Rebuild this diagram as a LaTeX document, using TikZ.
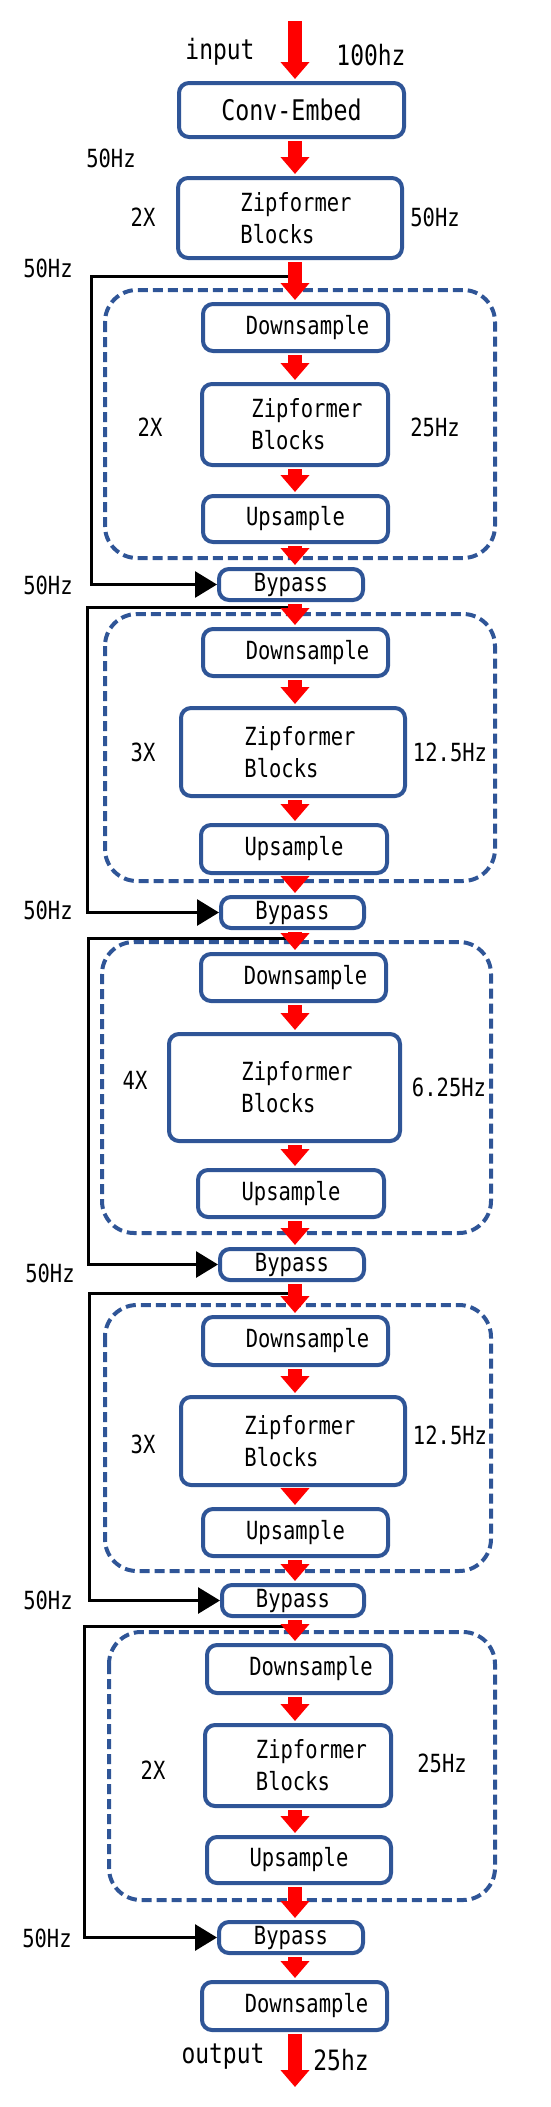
\documentclass[tikz,border=0pt]{standalone}
\usepackage{fontspec}
\setmainfont{DejaVu Sans Mono}[FakeStretch=0.82]
\usetikzlibrary{arrows.meta}
\definecolor{boxblue}{RGB}{47,85,151}
\newcommand{\zipf}[1]{\hspace*{#1}Zipformer\\\hspace*{#1}Blocks}
\newcommand{\dsmp}{\hspace*{24pt}Downsample}

\begin{document}
\begin{tikzpicture}[x=1pt, y=-1pt,
		blk/.style={draw=boxblue, line width=4pt, rounded corners=10pt, fill=white, inner sep=0pt, align=left, font=\fontsize{25}{32}\selectfont},
		stage/.style={draw=boxblue, line width=4pt, dash pattern=on 10pt off 5pt, rounded corners=32pt},
		flow/.style={red, line width=14pt, -{Triangle[width=28pt,length=17pt]}, shorten <=2pt, shorten >=2pt},
		skip/.style={line width=3pt, -{Triangle[width=26pt,length=22pt]}},
		lab/.style={inner sep=0pt, font=\fontsize{25}{28}\selectfont},
		big/.style={inner sep=0pt, font=\fontsize{28}{30}\selectfont}]
		\useasboundingbox (0,0) rectangle (550,2107);
		
		% Stages
		\draw[stage] (105,290) rectangle (495,558);
		\draw[stage] (105,614) rectangle (495,881);
		\draw[stage] (102,942) rectangle (491,1233);
		\draw[stage] (105,1305) rectangle (491,1571);
		\draw[stage] (109,1632) rectangle (495,1900);
		
		% Main column
		\coordinate (axis) at (295,0);
		\coordinate (in) at (295,21);
		\coordinate (out) at (295,2087);
		\node[blk, minimum width=225pt, minimum height=54pt, font=\fontsize{28.4}{32}\selectfont] (conv) at (291.5,110) {Conv-Embed};
		\node[blk, minimum width=224pt, minimum height=80pt] (zip0) at (290,218) {\zipf{12pt}};
		
		\node[blk, minimum width=185pt, minimum height=47pt] (d1) at (295.5,327.5) {\dsmp};
		\node[blk, minimum width=186pt, minimum height=81pt] (z1) at (295,424.5) {\zipf{24pt}};
		\node[blk, minimum width=185pt, minimum height=46pt] (u1) at (295.5,519) {Upsample};
		\node[blk, minimum width=144pt, minimum height=31pt] (b1) at (291,584.5) {Bypass};
		
		\node[blk, minimum width=185pt, minimum height=47pt] (d2) at (295.5,652.5) {\dsmp};
		\node[blk, minimum width=224pt, minimum height=88pt] (z2) at (293,752) {\zipf{14pt}};
		\node[blk, minimum width=186pt, minimum height=48pt] (u2) at (294,849) {Upsample};
		\node[blk, minimum width=143pt, minimum height=31pt] (b2) at (292.5,912.5) {Bypass};
		
		\node[blk, minimum width=185pt, minimum height=47pt] (d3) at (293.5,977.5) {\dsmp};
		\node[blk, minimum width=231pt, minimum height=107pt] (z3) at (284.5,1087.5) {\zipf{25pt}};
		\node[blk, minimum width=186pt, minimum height=47pt] (u3) at (291,1193.5) {Upsample};
		\node[blk, minimum width=144pt, minimum height=31pt] (b3) at (292,1264.5) {Bypass};
		
		\node[blk, minimum width=185pt, minimum height=48pt] (d4) at (295.5,1341) {\dsmp};
		\node[blk, minimum width=224pt, minimum height=88pt] (z4) at (293,1441) {\zipf{14pt}};
		\node[blk, minimum width=185pt, minimum height=47pt] (u4) at (295.5,1532.5) {Upsample};
		\node[blk, minimum width=142pt, minimum height=31pt] (b4) at (293,1600.5) {Bypass};
		
		\node[blk, minimum width=184pt, minimum height=48pt] (d5) at (299,1669) {\dsmp};
		\node[blk, minimum width=186pt, minimum height=81pt] (z5) at (298,1765.5) {\zipf{27pt}};
		\node[blk, minimum width=184pt, minimum height=46pt] (u5) at (299,1860) {Upsample};
		\node[blk, minimum width=144pt, minimum height=31pt] (b5) at (291,1937.5) {Bypass};
		
		\node[blk, minimum width=185pt, minimum height=48pt] (dout) at (294.5,2006) {\dsmp};
		
		% Labels
		\node[big] (lin) at (220,52) {input};
		\node[big] (lrate) at (371,55) {100hz};
		\node[lab] (r0) at (111,158) {50Hz};
		\node[lab] (n0) at (143,217) {2X};
		\node[lab] (f0) at (435,217) {50Hz};
		\node[lab] (n1) at (150,427) {2X};
		\node[lab] (f1) at (435,427) {25Hz};
		\node[lab] (n2) at (143,752) {3X};
		\node[lab] (f2) at (450,752) {12.5Hz};
		\node[lab] (n3) at (135,1080) {4X};
		\node[lab] (f3) at (449,1087) {6.25Hz};
		\node[lab] (n4) at (143,1444) {3X};
		\node[lab] (f4) at (450,1435) {12.5Hz};
		\node[lab] (n5) at (153,1770) {2X};
		\node[lab] (f5) at (442,1763) {25Hz};
		\node[lab] (s0) at (48,268) {50Hz};
		\node[lab] (s1) at (48,585) {50Hz};
		\node[lab] (s2) at (48,910) {50Hz};
		\node[lab] (s3) at (50,1273) {50Hz};
		\node[lab] (s4) at (48,1600) {50Hz};
		\node[lab] (s5) at (47,1938) {50Hz};
		\node[big] (lout) at (223,2057) {output};
		\node[big] (lorate) at (341,2060) {25hz};
		
		% Bypass links
		\coordinate (t0) at (295,276);
		\coordinate (c0) at (91,276);
		\coordinate (t1) at (295,607);
		\coordinate (c1) at (87,607);
		\coordinate (t2) at (295,938);
		\coordinate (c2) at (88,938);
		\coordinate (t3) at (295,1293);
		\coordinate (c3) at (89,1293);
		\coordinate (t4) at (295,1626);
		\coordinate (c4) at (84,1626);
		\draw[skip] (t0) -- (c0) |- (b1.west);
		\draw[skip] (t1) -- (c1) |- (b2.west);
		\draw[skip] (t2) -- (c2) |- (b3.west);
		\draw[skip] (t3) -- (c3) |- (b4.west);
		\draw[skip] (t4) -- (c4) |- (b5.west);
		
		% Edges
		\draw[flow, shorten <=0pt] (in) -- (conv.north -| axis);
		\draw[flow] (conv.south -| axis) -- (zip0.north -| axis);
		\draw[flow] (zip0.south -| axis) -- (d1.north -| axis);
		\draw[flow] (d1.south -| axis) -- (z1.north -| axis);
		\draw[flow] (z1.south -| axis) -- (u1.north -| axis);
		\draw[flow] (u1.south -| axis) -- (b1.north -| axis);
		\draw[flow] (b1.south -| axis) -- (d2.north -| axis);
		\draw[flow] (d2.south -| axis) -- (z2.north -| axis);
		\draw[flow] (z2.south -| axis) -- (u2.north -| axis);
		\draw[flow] (u2.south -| axis) -- (b2.north -| axis);
		\draw[flow] (b2.south -| axis) -- (d3.north -| axis);
		\draw[flow] (d3.south -| axis) -- (z3.north -| axis);
		\draw[flow] (z3.south -| axis) -- (u3.north -| axis);
		\draw[flow] (u3.south -| axis) -- (b3.north -| axis);
		\draw[flow] (b3.south -| axis) -- (d4.north -| axis);
		\draw[flow] (d4.south -| axis) -- (z4.north -| axis);
		\draw[flow] (z4.south -| axis) -- (u4.north -| axis);
		\draw[flow] (u4.south -| axis) -- (b4.north -| axis);
		\draw[flow] (b4.south -| axis) -- (d5.north -| axis);
		\draw[flow] (d5.south -| axis) -- (z5.north -| axis);
		\draw[flow] (z5.south -| axis) -- (u5.north -| axis);
		\draw[flow] (u5.south -| axis) -- (b5.north -| axis);
		\draw[flow] (b5.south -| axis) -- (dout.north -| axis);
		\draw[flow, shorten >=0pt] (dout.south -| axis) -- (out);
		
	\end{tikzpicture}
\end{document}
